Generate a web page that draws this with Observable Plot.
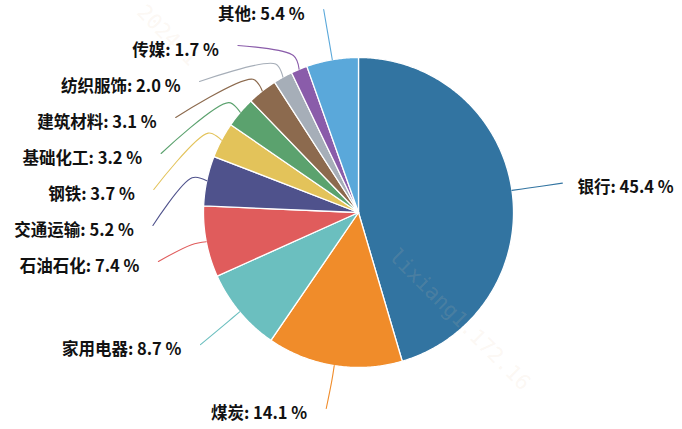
<!DOCTYPE html>
<html>
<head>
<meta charset="utf-8">
<script src="https://cdn.jsdelivr.net/npm/d3@7"></script>
<script src="https://cdn.jsdelivr.net/npm/@observablehq/plot@0.6"></script>
<style>
  html, body { margin: 0; padding: 0; background: #fff; }
  #chart { width: 682px; height: 429px; }
</style>
</head>
<body>
<div id="chart"></div>
<script>
// ---- data ----
const names  = ["银行", "煤炭", "家用电器", "石油石化", "交通运输", "钢铁", "基础化工", "建筑材料", "纺织服饰", "传媒", "其他"];
const values = [45.4, 14.1, 8.7, 7.4, 5.2, 3.7, 3.2, 3.1, 2.0, 1.7, 5.4];
const colors = ["#3274a1", "#f08c2a", "#6bbfbf", "#e05c5c", "#4f528c", "#e3c35a", "#5ba26e", "#8c6a4e", "#a6aeb8", "#8a5caa", "#5aa8da"];
const watermarks = ["lixiang1.172.16", "2024-1"];

// ---- layout ----
const W = 682, H = 429;
const cx = 358, cy = 212, r = 155;
const R1 = r + 15;     // first leg of leader line
const R2 = 206;        // label anchor radius
const gap = 36;        // min vertical spacing between labels
const yTop = 9, yBottom = 408;

const rows = names.map((name, i) => ({name, value: values[i]}));
const arcs = d3.pie().sort(null).value(d => d.value).startAngle(0).endAngle(2 * Math.PI)(rows);

// slice polygons
const slicePts = [];
arcs.forEach(a => {
  const name = a.data.name;
  slicePts.push({name, x: cx, y: cy});
  const n = Math.max(2, Math.ceil((a.endAngle - a.startAngle) / (Math.PI / 360)));
  for (let k = 0; k <= n; k++) {
    const t = a.startAngle + (a.endAngle - a.startAngle) * k / n;
    slicePts.push({name, x: cx + r * Math.sin(t), y: cy - r * Math.cos(t)});
  }
  slicePts.push({name, x: cx, y: cy});
});

// labels with simple overlap avoidance
const labels = arcs.map(a => {
  const m = (a.startAngle + a.endAngle) / 2;
  const s = Math.sin(m), c = Math.cos(m);
  return {
    name: a.data.name,
    text: `${a.data.name}: ${a.data.value.toFixed(1)} %`,
    side: s < 0 ? -1 : 1,
    p0: [cx + r * s, cy - r * c],
    p1: [cx + R1 * s, cy - R1 * c],
    x: cx + R2 * s,
    y: cy - R2 * c,
    moved: false
  };
});
for (const side of [-1, 1]) {
  const group = labels.filter(l => l.side === side).sort((a, b) => a.y - b.y);
  let prev = -Infinity;
  for (const l of group) {
    let y = Math.max(l.y, yTop);
    if (y < prev + gap) { y = prev + gap; l.moved = true; }
    if (y > yBottom) y = yBottom;
    l.y = y;
    prev = y;
    if (l.moved) {
      const dy = l.y - cy;
      l.x = cx + side * Math.sqrt(Math.max(0, R2 * R2 - dy * dy));
    }
  }
}
const linePts = [];
labels.forEach(l => {
  linePts.push({name: l.name, x: l.p0[0], y: l.p0[1]});
  linePts.push({name: l.name, x: l.p1[0], y: l.p1[1]});
  linePts.push({name: l.name, x: l.x, y: l.y});
});
const textPts = labels.map(l => ({
  text: l.text,
  x: l.x + l.side * (l.side < 0 ? 19 : 15),
  y: l.y,
  anchor: l.side < 0 ? "end" : "start"
}));
const wmPts = [
  {text: watermarks[0], x: 392, y: 252},
  {text: watermarks[1], x: 140, y: 8}
];

const chart = Plot.plot({
  width: W,
  height: H,
  margin: 0,
  x: {domain: [0, W], range: [0, W], axis: null},
  y: {domain: [0, H], range: [0, H], axis: null},
  color: {domain: names, range: colors},
  style: {fontFamily: "'Noto Sans CJK SC', 'Noto Sans', sans-serif", background: "#fff"},
  marks: [
    Plot.line(slicePts, {x: "x", y: "y", z: "name", fill: "name", stroke: "white", strokeWidth: 1.3, strokeLinejoin: "round"}),
    Plot.line(linePts, {x: "x", y: "y", z: "name", stroke: "name", strokeWidth: 1.1, curve: "catmull-rom"}),
    Plot.text(wmPts, {x: "x", y: "y", text: "text", textAnchor: "start", rotate: 45, fontSize: 21, fontFamily: "'DejaVu Sans Mono', monospace", fill: "#e8c8a8", fillOpacity: 0.15}),
    Plot.text(textPts.filter(d => d.anchor === "end"), {x: "x", y: "y", text: "text", textAnchor: "end", dy: 5, fontSize: 16.5, fontWeight: "bold", fill: "#111"}),
    Plot.text(textPts.filter(d => d.anchor === "start"), {x: "x", y: "y", text: "text", textAnchor: "start", dy: 5, fontSize: 16.5, fontWeight: "bold", fill: "#111"})
  ]
});
document.getElementById("chart").appendChild(chart);
</script>
</body>
</html>
